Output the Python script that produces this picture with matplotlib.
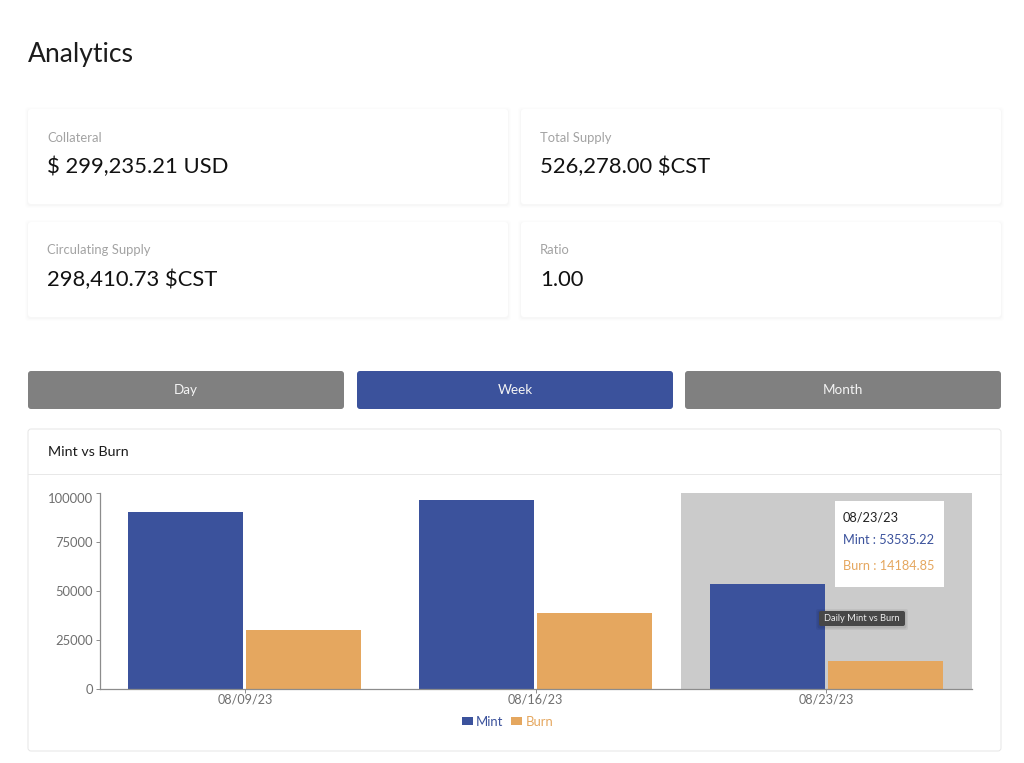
import matplotlib
matplotlib.use("Agg")
import matplotlib.pyplot as plt
import numpy as np
from matplotlib.patches import FancyBboxPatch, Rectangle
from matplotlib.transforms import ScaledTranslation

plt.rcParams['font.family'] = ['Lato', 'DejaVu Sans']

W, H = 1024, 763
PT = 0.72  # px -> pt at dpi 100

dates = ["08/09/23", "08/16/23", "08/23/23"]
mint = [90300, 96400, 53535.22]
burn = [30250, 38800, 14184.85]
y_ticks = [0, 25000, 50000, 75000, 100000]

cards = [("Collateral", "$ 299,235.21 USD"), ("Total Supply", "526,278.00 $CST"),
         ("Circulating Supply", "298,410.73 $CST"), ("Ratio", "1.00")]
buttons = ["Day", "Week", "Month"]

BLUE, ORANGE = "#3B529C", "#E5A75F"
GREY_TXT = "#6f6f6f"

fig = plt.figure(figsize=(W / 100, H / 100), dpi=100, facecolor="white")

# page layer in pixel coordinates
bg = fig.add_axes([0, 0, 1, 1])
bg.set_xlim(0, W); bg.set_ylim(H, 0); bg.axis("off")

def box(x0, y0, x1, y1, fc="white", ec="none", r=3, lw=0, z=1, ax=bg):
    p = FancyBboxPatch((x0 + r, y0 + r), x1 - x0 - 2 * r, y1 - y0 - 2 * r,
                       boxstyle=f"round,pad={r},rounding_size={r}",
                       fc=fc, ec=ec, lw=lw, zorder=z)
    ax.add_patch(p)

bg.text(28, 54.5, "Analytics", fontsize=26.5 * PT, color="#1c1c1c", va="center", ha="left")

card_boxes = [(28, 109, 508, 204), (521, 109, 1001, 204),
              (28, 222, 508, 317), (521, 222, 1001, 317)]
for (x0, y0, x1, y1), (lab, val) in zip(card_boxes, cards):
    for grow, col in [(3, "#fdfdfd"), (2, "#fbfbfb"), (1, "#f7f7f7")]:
        box(x0 - grow, y0 - grow + 1, x1 + grow, y1 + grow + 1, fc=col, r=4, z=1)
    box(x0, y0, x1, y1, fc="white", r=3, z=2)
    bg.text(x0 + 19, y0 + 28.5, lab, fontsize=13 * PT, color="#a3a3a3", va="center", zorder=3)
    bg.text(x0 + 19, y0 + 57.5, val, fontsize=22 * PT, color="#111111", va="center", zorder=3)

btn_boxes = [(28, 344), (357, 673), (685, 1001)]
btn_cols = ["#808080", BLUE, "#808080"]
for (x0, x1), col, lab in zip(btn_boxes, btn_cols, buttons):
    box(x0, 371, x1, 409, fc=col, r=3, z=2)
    bg.text((x0 + x1) / 2, 389.5, lab, fontsize=13.5 * PT, color="#f4f4f4", ha="center", va="center", zorder=3)

box(28, 429, 1001, 751, fc="white", ec="#e6e6e6", lw=0.7, r=3, z=1)
bg.plot([28, 1001], [474, 474], color="#e8e8e8", lw=0.7, zorder=2)
bg.text(48, 451.5, "Mint vs Burn", fontsize=14.2 * PT, color="#1c1c1c", va="center", zorder=3)

# chart axes
left, right, top, bottom = 99.5, 971.7, 493, 689
ax = fig.add_axes([left / W, 1 - bottom / H, (right - left) / W, (bottom - top) / H])
ax.patch.set_alpha(0)
x = np.arange(len(dates))
band = (right - left) / 3
bw = 115 / band
gap = 3 / band
ax.set_xlim(-0.5, 2.5)
ax.set_ylim(0, 100000)

ax.axvspan(1.5, 2.5, color="#CBCBCB", lw=0, zorder=0)
bars_m = ax.bar(x - (bw + gap) / 2, mint, bw, color=BLUE, label="Mint", zorder=2)
bars_b = ax.bar(x + (bw + gap) / 2, burn, bw, color=ORANGE, label="Burn", zorder=2)

for s in ("top", "right"):
    ax.spines[s].set_visible(False)
for s in ("left", "bottom"):
    ax.spines[s].set_color("#8c8c8c")
    ax.spines[s].set_linewidth(0.9)
    ax.spines[s].set_zorder(3)
ax.set_xticks(x, dates)
y_labels = [str(v) for v in y_ticks]
ax.set_yticks(y_ticks, y_labels[:-1] + [""])
ax.tick_params(axis="both", length=3, width=0.7, color="#8c8c8c", labelcolor=GREY_TXT,
               labelsize=13 * PT, pad=1.5)
ax.tick_params(axis="x", labelsize=12.6 * PT, pad=0.5)
# the top label sits just below its tick, as it does in the reference
ax.annotate(y_labels[-1], xy=(0, y_ticks[-1]), xycoords=ax.get_yaxis_transform(),
            xytext=(-6.4 * PT, -6 * PT), textcoords="offset points",
            ha="right", va="center", fontsize=13 * PT, color=GREY_TXT)

leg = fig.legend(handles=[bars_m, bars_b], loc="center", bbox_to_anchor=(507.5 / W, 1 - 721.5 / H),
                 ncol=2, frameon=False, fontsize=13 * PT, handlelength=0.85, handleheight=0.65,
                 handletextpad=0.25, columnspacing=0.6, borderpad=0, borderaxespad=0)
for t, c in zip(leg.get_texts(), (BLUE, ORANGE)):
    t.set_color(c)

# tooltip layer
ov = fig.add_axes([0, 0, 1, 1])
ov.set_xlim(0, W); ov.set_ylim(H, 0); ov.axis("off"); ov.patch.set_alpha(0)
ov.add_patch(Rectangle((835, 501), 109, 86, fc="white", ec="none", zorder=5))
ov.text(843, 518, dates[2], fontsize=12.8 * PT, color="#222222", va="center", zorder=6)
ov.text(843, 540.5, f"Mint : {mint[2]:.2f}", fontsize=12.8 * PT, color=BLUE, va="center", zorder=6)
ov.text(843, 565.5, f"Burn : {burn[2]:.2f}", fontsize=12.8 * PT, color=ORANGE, va="center", zorder=6)
for grow, col, a in [(3, "#000000", 0.05), (1.5, "#000000", 0.08)]:
    box(819 - grow, 611 - grow + 1, 905 + grow, 626 + grow + 1, fc=col, r=2, z=6, ax=ov)
    ov.patches[-1].set_alpha(a)
box(819, 611, 905, 626, fc="#474747", r=2, z=7, ax=ov)
ov.text(862, 618.5, "Daily Mint vs Burn", fontsize=9.3 * PT, color="#eeeeee", ha="center", va="center", zorder=8)

fig.savefig("out.png", dpi=100)
